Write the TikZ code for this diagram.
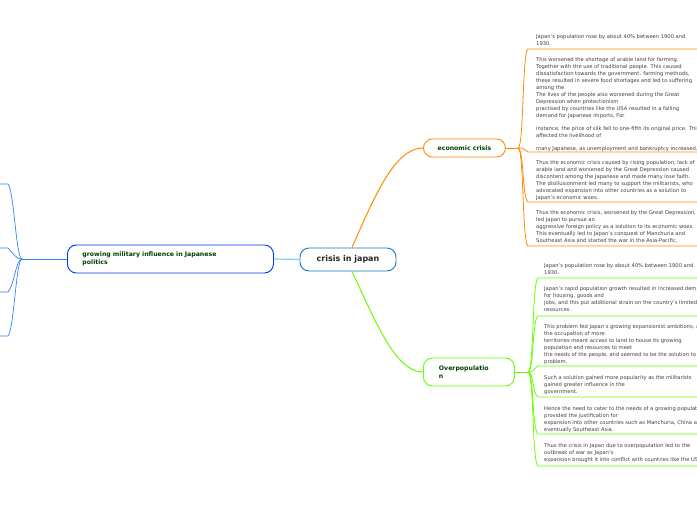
\documentclass[tikz,border=0pt]{standalone}
\usepackage{fontspec}
\setmainfont{DejaVu Sans}
\usetikzlibrary{calc}
\begin{document}
\begin{tikzpicture}[x=1pt,y=-1pt,
  leaf/.style={anchor=north west,align=left,inner sep=0pt,font=\fontsize{5.2}{7}\selectfont,text=black!75},
  topic/.style={draw,rounded corners=9pt,line width=0.9pt,fill=white,font=\bfseries\fontsize{6.2}{8}\selectfont,text=green!25!black,align=left,inner xsep=10pt},
  oline/.style={draw=orange!90!yellow,line width=0.8pt},
  gline/.style={draw=green!60!yellow,line width=0.8pt},
  bline/.style={draw=blue!60!cyan!80!white,line width=0.7pt}]
\clip (0,0) rectangle (697,520);
\fill[white] (0,0) rectangle (697,520);
% nodes
\node[topic,draw=cyan!60!blue,minimum width=96pt,minimum height=23pt,font=\bfseries\fontsize{8}{10}\selectfont,text=black!85,align=center] (c) at (348,259.5) {crisis in japan};
\node[topic,draw=orange!90!yellow,minimum width=82pt,minimum height=18pt,anchor=west] (e) at (423,148) {economic crisis};
\node[topic,draw=green!60!yellow,minimum width=91pt,minimum height=28pt,anchor=west,text width=60pt,inner xsep=8pt] (o) at (423,372) {Overpopulatio\\n};
\node[topic,draw=blue!80!cyan,minimum width=206pt,minimum height=28pt,anchor=west,inner xsep=15pt,text width=176pt] (m) at (67,259) {growing military influence in Japanese\\politics};
% main connectors
\draw[line width=1.2pt,draw=blue!40!cyan!50!white] (c.west) -- (m.east);
\draw[oline,line width=1pt] ($(c.north)+(4,0)$) .. controls (375,195) and (395,148) .. (e.west);
\draw[gline,line width=1pt] ($(c.south)+(4,0)$) .. controls (375,320) and (395,372) .. (o.west);
% economic leaves
\coordinate (ej) at (518,148);
\draw[oline] (e.east) -- (ej);
\foreach \y/\d in {49/4,152/-4,202/-4,246/-4}{
  \draw[oline] (ej) .. controls (524,148) and (522,\y+\d) .. (528,\y) -- (697,\y);
}
\node[leaf] (e1) at (536,34) {Japan's population rose by about 40\% between 1900 and\\1930.};
\node[leaf] (e2) at (536,57) {This worsened the shortage of arable land for farming.\\Together with the use of traditional people. This caused\\dissatisfaction towards the government. farming methods,\\these resulted in severe food shortages and led to suffering\\among the\\The lives of the people also worsened during the Great\\Depression when protectionism\\practised by countries like the USA resulted in a falling\\demand for Japanese imports, For\\[6pt]instance, the price of silk fell to one-fifth its original price. This\\affected the livelihood of\\[6pt]many Japanese, as unemployment and bankruptcy increased.};
\node[leaf] (e3) at (536,160) {Thus the economic crisis caused by rising population, lack of\\arable land and worsened by the Great Depression caused\\discontent among the Japanese and made many lose faith.\\The disillusionment led many to support the militarists, who\\advocated expansion into other countries as a solution to\\Japan's economic woes.};
\node[leaf] (e4) at (536,210) {Thus the economic crisis, worsened by the Great Depression,\\led Japan to pursue an\\aggressive foreign policy as a solution to its economic woes.\\This eventually led to Japan's conquest of Manchuria and\\Southeast Asia and started the war in the Asia-Pacific,};
% overpopulation leaves
\coordinate (oj) at (528,372);
\draw[gline] (o.east) -- (oj);
\foreach \y/\d in {278/4,316/4,366/4,397/-4,434/-4,466/-4}{
  \draw[gline] (oj) .. controls (534,372) and (532,\y+\d) .. (538,\y) -- (697,\y);
}
\node[leaf] (o1) at (544,263) {Japan's population rose by about 40\% between 1900 and\\1930.};
\node[leaf] (o2) at (544,286) {Japan's rapid population growth resulted in increased demand\\for housing, goods and\\jobs, and this put additional strain on the country's limited\\resources.};
\node[leaf] (o3) at (544,324) {This problem fed Japan's growing expansionist ambitions, as\\the occupation of more\\territories meant access to land to house its growing\\population and resources to meet\\the needs of the people, and seemed to be the solution to the\\problem.};
\node[leaf] (o4) at (544,375) {Such a solution gained more popularity as the militarists\\gained greater influence in the\\government.};
\node[leaf] (o5) at (544,406) {Hence the need to cater to the needs of a growing population\\provided the justification for\\expansion into other countries such as Manchuria, China and\\eventually Southeast Asia.};
\node[leaf] (o6) at (544,443) {Thus the crisis in Japan due to overpopulation led to the\\outbreak of war as Japan's\\expansion brought it into conflict with countries like the USA.};
% military branches
\coordinate (mj) at (22,259);
\draw[bline,line width=1pt] (m.west) -- (mj);
\foreach \y/\d in {184/6,248/6,292/-6,336/-6}{
  \draw[bline] (mj) .. controls (16,259) and (14,\y+\d) .. (8,\y) -- (0,\y);
}
\end{tikzpicture}
\end{document}
